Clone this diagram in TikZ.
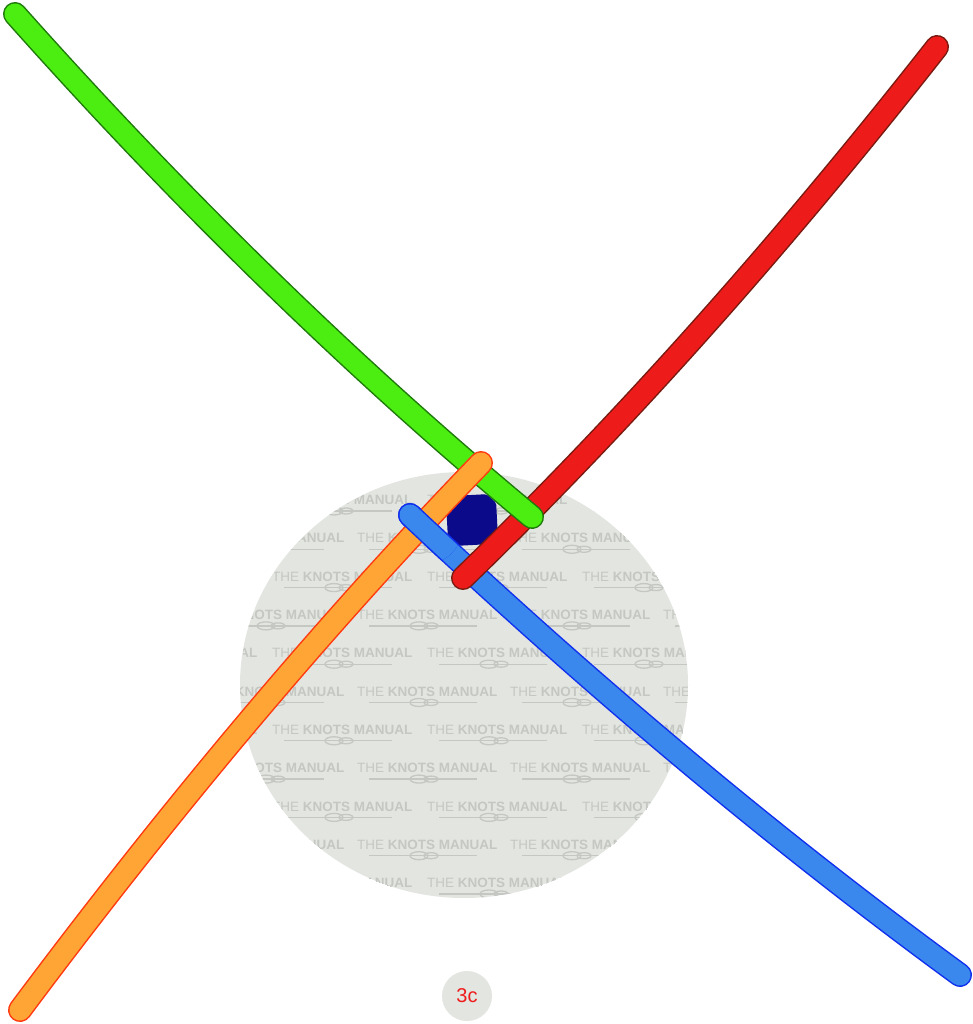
\documentclass[tikz,border=0pt]{standalone}
\usepackage{fontspec}
\setmainfont{Liberation Sans}
\usetikzlibrary{calc}
\definecolor{bgc}{HTML}{E2E5E0}
\definecolor{wmc}{HTML}{C4C7C2}
\definecolor{gfill}{HTML}{4CEE12}
\definecolor{gline}{HTML}{1E7A0A}
\definecolor{rfill}{HTML}{EE1B1B}
\definecolor{rline}{HTML}{7A1A10}
\definecolor{ofill}{HTML}{FFA535}
\definecolor{oline}{HTML}{FF3A10}
\definecolor{bfill}{HTML}{3A88EE}
\definecolor{bline}{HTML}{1030EE}
\definecolor{navy}{HTML}{0A0A8A}
\definecolor{labc}{HTML}{EE1B1B}
\tikzset{
  wmtext/.style={anchor=west, inner sep=0pt, text=wmc, font=\fontsize{13.5}{13.5}\selectfont},
  wmknot/.style={draw=wmc, line width=1.3pt},
  strandout/.style={line width=24pt, line cap=round},
  strandin/.style={line width=21pt, line cap=round},
  labeltext/.style={text=labc, font=\fontsize{20}{20}\selectfont, inner sep=0pt}
}
\newcommand{\strandpath}[3]{% p0, c, p2 (quadratic)
  (#1) .. controls ($(#1)!2/3!(#2)$) and ($(#3)!2/3!(#2)$) .. (#3)}
\newcommand{\drawstrand}[5]{% p0,c,p2,outline,fill
  \draw[strandout, draw=#4] \strandpath{#1}{#2}{#3};
  \draw[strandin, draw=#5] \strandpath{#1}{#2}{#3};}
\begin{document}
\begin{tikzpicture}[x=1pt,y=-1pt]
\useasboundingbox (0,0) rectangle (972,1024);
\fill[white] (0,0) rectangle (972,1024);
% background disc
\coordinate (disc) at (464,685);
\fill[bgc] (disc) ellipse [x radius=224, y radius=213];
% watermark
\begin{scope}
\clip (disc) ellipse [x radius=224, y radius=213];
\foreach \k in {0,...,10}{
  \pgfmathsetmacro{\yy}{500+38.3*\k}
  \pgfmathtruncatemacro{\odd}{mod(\k,2)}
  \ifnum\odd=0 \def\xs{272}\def\dx{155}\else\def\xs{357}\def\dx{153}\fi
  \foreach \m in {-1,...,2}{
    \pgfmathsetmacro{\xx}{\xs+\dx*\m}
    \node[wmtext] (wm-\k-\m) at (\xx,\yy) {THE \textbf{KNOTS MANUAL}};
    \draw[wmknot] ($(wm-\k-\m.south west)+(12,6)$) -- ($(wm-\k-\m.south west)+(120,6)$);
    \draw[wmknot] ($(wm-\k-\m.south west)+(62,6)$) ellipse [x radius=9, y radius=4];
    \draw[wmknot] ($(wm-\k-\m.south west)+(74,6)$) ellipse [x radius=7, y radius=3];
  }
}
\end{scope}
% center block
\coordinate (ctr) at (472,520);
\fill[navy, rounded corners=2pt, rotate around={3:(ctr)}]
  ($(ctr)+(-16,-25)$) -- ($(ctr)+(16,-25)$) -- ($(ctr)+(25,-16)$) -- ($(ctr)+(25,16)$)
  -- ($(ctr)+(16,25)$) -- ($(ctr)+(-16,25)$) -- ($(ctr)+(-25,16)$) -- ($(ctr)+(-25,-16)$) -- cycle;
% strand coordinates
\coordinate (g0) at (15,14);   \coordinate (gc) at (266.5,296.5); \coordinate (g1) at (532,517);
\coordinate (r0) at (937,47);  \coordinate (rc) at (701.5,347);   \coordinate (r1) at (463,578);
\coordinate (o0) at (481,463); \coordinate (oc) at (249.6,702.4); \coordinate (o1) at (20,1010);
\coordinate (b0) at (410,515); \coordinate (bc) at (685,774);     \coordinate (b1) at (960,975);
% strands
\drawstrand{b0}{bc}{b1}{bline}{bfill}
\drawstrand{r0}{rc}{r1}{rline}{rfill}
\drawstrand{g0}{gc}{g1}{gline}{gfill}
\drawstrand{o0}{oc}{o1}{oline}{ofill}
% blue over orange at their crossing
\begin{scope}
\clip (426,528) circle [radius=36];
\drawstrand{b0}{bc}{b1}{bline}{bfill}
\end{scope}
% label
\node[circle, fill=bgc, minimum size=50pt, inner sep=0pt] (lab) at (467,996) {};
\node[labeltext] (labt) at (lab.center) {3c};
\end{tikzpicture}
\end{document}
